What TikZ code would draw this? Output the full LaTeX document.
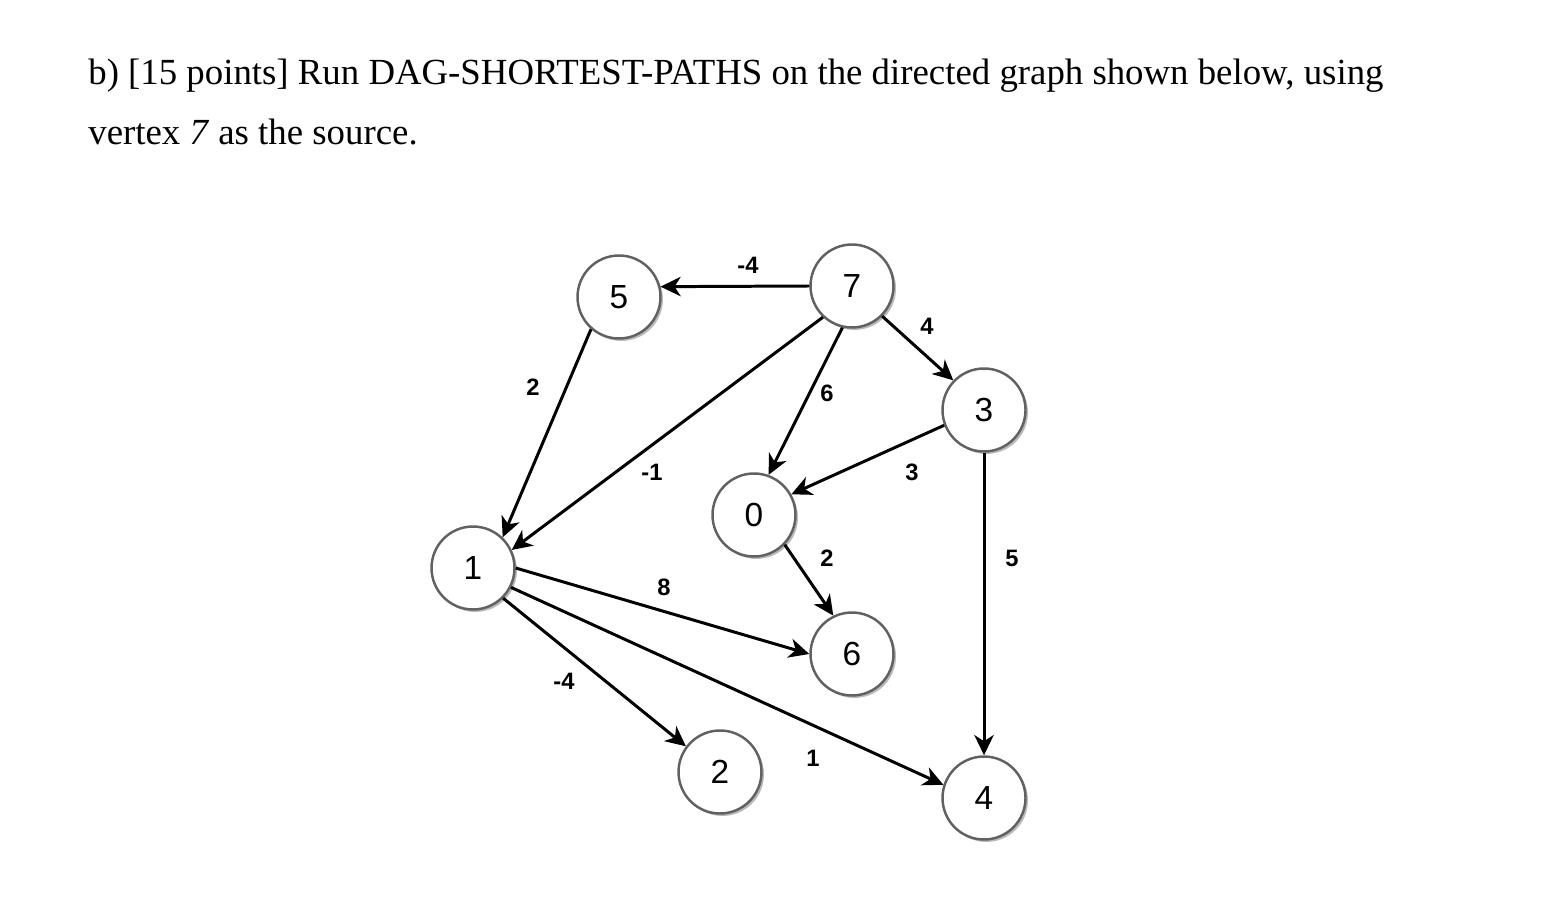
\documentclass[tikz,border=0pt]{standalone}
\usepackage{fontspec}
\setmainfont{Liberation Serif}
\setsansfont{Liberation Sans}
\usetikzlibrary{arrows.meta}
\usetikzlibrary{shadows}

\begin{document}
\begin{tikzpicture}[
		x=0.02cm,y=-0.02cm,
		v/.style={circle,draw=black!62,line width=1.4pt,fill=white,minimum size=1.66cm,inner sep=0pt,
			font=\sffamily\fontsize{19}{19}\selectfont,
			drop shadow={shadow xshift=1.4pt,shadow yshift=-1.4pt,fill=black!45,opacity=0.6}},
		w/.style={inner sep=0pt,font=\sffamily\bfseries\fontsize{13.5}{13.5}\selectfont},
		e/.style={->,line width=1.7pt},
		>={Stealth[length=11.5pt,width=11pt,inset=3.5pt]}]
	\fill[white] (0,0) rectangle (1544,908);
	\useasboundingbox (0,0) rectangle (1544,908);
	%% define text
	\node (t1) [anchor=base west,inner sep=0pt,font=\fontsize{20.95}{24}\selectfont] at (88,85) {b) [15 points] Run DAG-SHORTEST-PATHS on the directed graph shown below, using};
	\node (t2) [anchor=base west,inner sep=0pt,font=\fontsize{20.95}{24}\selectfont] at (88,145) {vertex \textit{7} as the source.};
	%% define vertices
	\node (n5) at (619,297) [v] {5};
	\node (n7) at (852,286) [v] {7};
	\node (n3) at (984,410) [v] {3};
	\node (n0) at (754,515) [v] {0};
	\node (n1) at (473,568) [v] {1};
	\node (n6) at (852,654) [v] {6};
	\node (n2) at (720,772) [v] {2};
	\node (n4) at (984,798) [v] {4};
	%% define edges
	\draw[e] (n7.180) -- (n5.14);
	\draw[e] (n7.315) -- (n3.136);
	\draw[e] (n7.257) -- (n0.70);
	\draw[e] (n7.227) -- (n1.25);
	\draw[e] (n5.229) -- (n1.46);
	\draw[e] (n3.201) -- (n0.29);
	\draw[e] (n3.south) -- (n4.north);
	\draw[e] (n0.316) -- (n6.116);
	\draw[e] (n1.0) -- (n6.180);
	\draw[e] (n1.315) -- (n2.143);
	\draw[e] (n1.333) -- (n4.162);
	%% define weights
	\node (w75) at (748,265) [w] {-4};
	\node (w73) at (927,326) [w] {4};
	\node (w70) at (827,393) [w] {6};
	\node (w71) at (652,472) [w] {-1};
	\node (w51) at (533,387) [w] {2};
	\node (w30) at (912,472) [w] {3};
	\node (w34) at (1012,558) [w] {5};
	\node (w06) at (827,558) [w] {2};
	\node (w16) at (664,587) [w] {8};
	\node (w12) at (564,681) [w] {-4};
	\node (w14) at (813,758) [w] {1};
\end{tikzpicture}
\end{document}
